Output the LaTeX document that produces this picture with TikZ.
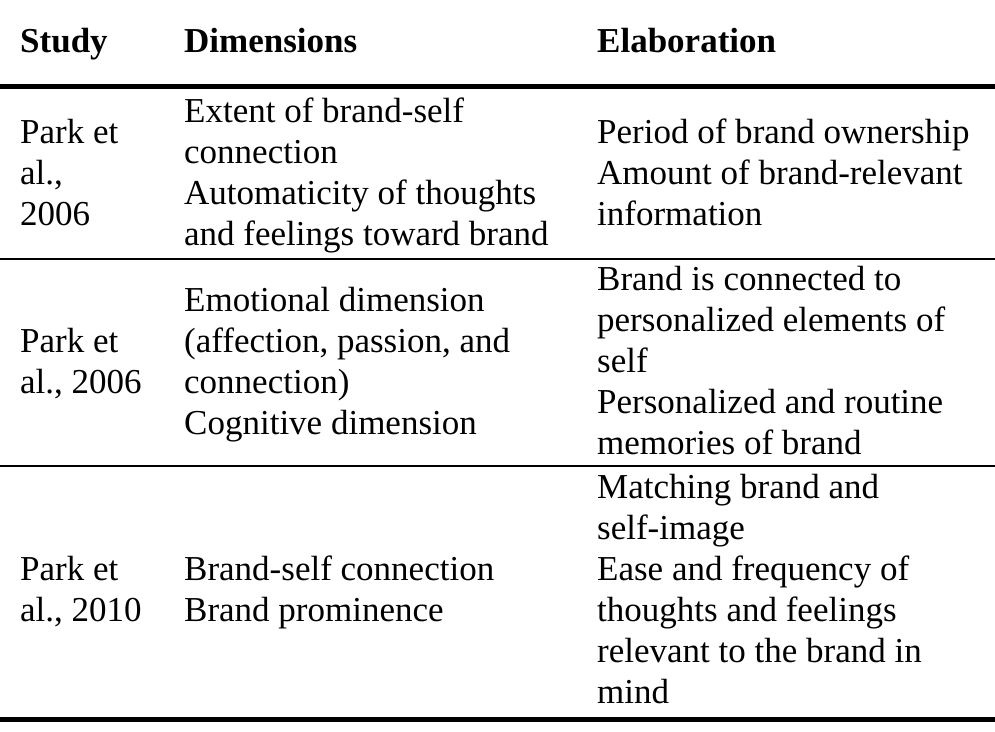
\documentclass[tikz,border=0pt]{standalone}
\usepackage{fontspec}
\setmainfont{Liberation Serif}
\begin{document}
\begin{tikzpicture}[x=1pt,y=-1pt,
  cell/.style={anchor=base west,inner sep=0pt,font=\fontsize{35}{41}\selectfont},
  head/.style={cell,font=\fontsize{35}{41}\selectfont\bfseries}]
\useasboundingbox (0,0) rectangle (995,731);
\newcommand\mycell[4]{\foreach \t [count=\i from 0] in {#4} \node[cell] (#3-\i) at (#1,#2+41*\i) {\t};}
\draw[line width=5pt] (0,86) -- (995,86);
\draw[line width=2pt] (0,259) -- (995,259);
\draw[line width=2pt] (0,466) -- (995,466);
\draw[line width=5pt] (0,719) -- (995,719);
\node[head] (h1) at (20,52) {Study};
\node[head] (h2) at (184,52) {Dimensions};
\node[head] (h3) at (597,52) {Elaboration};
\mycell{20}{143}{s1}{Park et,{al.,},2006}
\mycell{184}{122}{d1}{Extent of brand-self,connection,Automaticity of thoughts,and feelings toward brand}
\mycell{597}{143}{e1}{Period of brand ownership,Amount of brand-relevant,information}
\mycell{20}{352}{s2}{Park et,{al., 2006}}
\mycell{184}{311}{d2}{Emotional dimension,{(affection, passion, and},connection),Cognitive dimension}
\mycell{597}{290}{e2}{Brand is connected to,personalized elements of,self,Personalized and routine,memories of brand}
\mycell{20}{580}{s3}{Park et,{al., 2010}}
\mycell{184}{580}{d3}{Brand-self connection,Brand prominence}
\mycell{597}{498}{e3}{Matching brand and,self-image,Ease and frequency of,thoughts and feelings,relevant to the brand in,mind}
\end{tikzpicture}
\end{document}
